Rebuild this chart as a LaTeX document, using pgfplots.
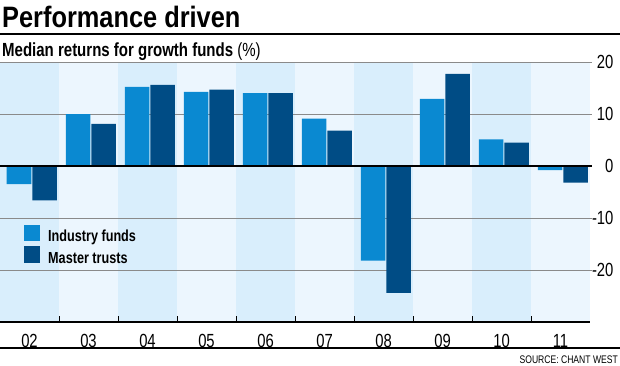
\documentclass[border=0pt]{standalone}
\usepackage{pgfplots}
\pgfplotsset{compat=1.18}
\usepackage{fontspec}
\setmainfont{Liberation Sans}[FakeStretch=0.78]
\newfontfamily\titlefont{Liberation Sans}[FakeStretch=0.86]
\newfontfamily\subfont{Liberation Sans}[FakeStretch=0.79]
\definecolor{ind}{HTML}{0A89D1}
\definecolor{mas}{HTML}{004C85}
\definecolor{bandA}{HTML}{D9EEFC}
\definecolor{bandB}{HTML}{ECF6FE}
\definecolor{gridc}{HTML}{8A8A8A}
\newcommand{\legtext}[1]{{\fontsize{16}{18}\subfont\bfseries #1}}
\begin{document}
\begin{tikzpicture}[x=1pt,y=1pt]
\useasboundingbox (0,-43) rectangle (620,322);
% title and subtitle
\node[anchor=base west,inner sep=0pt,font=\fontsize{29.5}{32}\titlefont\bfseries] at (2,295) {Performance driven};
\draw[line width=2.2pt] (0,288) -- (620,288);
\node[anchor=base west,inner sep=0pt,font=\fontsize{19}{21}\subfont] at (2,266) {\textbf{Median returns for growth funds} (\%)};
\draw[line width=1.1pt] (0,-26) -- (620,-26);
\node[anchor=base east,inner sep=0pt,font=\fontsize{11}{12}\selectfont] at (618,-41.3) {SOURCE: CHANT WEST};
\begin{axis}[at={(0,0)},anchor=south west,scale only axis,
  width=590pt,height=260pt,
  xmin=-0.5,xmax=9.5,ymin=-30,ymax=20,
  axis line style={draw=none},tick style={draw=none},
  xtick={0,...,9},xticklabels={02,03,04,05,06,07,08,09,10,11},
  xticklabel style={anchor=center,yshift=-15pt,font=\fontsize{19}{21}\selectfont},
  ytick={-20,-10,0,10,20},yticklabels={-20,-10,0,10,20},
  yticklabel pos=right,
  yticklabel style={anchor=east,xshift=27pt,font=\fontsize{19}{21}\selectfont},
  clip=false,
  ybar,bar width=24.5pt,
  legend style={at={(0.0407,0.3758)},anchor=north west,draw=none,fill=none,inner sep=0pt,
    nodes={inner sep=0pt,anchor=base west},column sep=8pt,row sep=4pt},
  legend image code/.code={\fill[#1,draw=none] (0pt,0pt) rectangle (16pt,16.5pt);},
]
% background bands
\pgfplotsinvokeforeach{0,2,4,6,8}{\fill[bandA] (axis cs:#1-0.5,-30) rectangle (axis cs:#1+0.5,20);}
\pgfplotsinvokeforeach{1,3,5,7,9}{\fill[bandB] (axis cs:#1-0.5,-30) rectangle (axis cs:#1+0.5,20);}
\pgfplotsinvokeforeach{-20,-10,10,20}{\draw[gridc,line width=0.9pt] (axis cs:-0.5,#1) -- ([xshift=2pt]axis cs:9.5,#1);}
\addplot[fill=ind,draw=none,bar shift=-10.5pt] coordinates {
 (0,-3.5) (1,10.0) (2,15.2) (3,14.25) (4,14.0) (5,9.1) (6,-18.2) (7,12.9) (8,5.1) (9,-0.8)};
\addplot[fill=mas,draw=none,bar shift=15pt] coordinates {
 (0,-6.6) (1,8.1) (2,15.6) (3,14.7) (4,14.0) (5,6.8) (6,-24.4) (7,17.7) (8,4.5) (9,-3.2)};
\legend{\legtext{Industry funds},\legtext{Master trusts}}
\draw[black,line width=1.4pt] (axis cs:-0.5,0) -- ([xshift=2pt]axis cs:9.5,0);
\draw[black,line width=1.2pt] (axis cs:-0.5,-30) -- (axis cs:9.5,-30);
\pgfplotsinvokeforeach{0.5,1.5,2.5,3.5,4.5,5.5,6.5,7.5,8.5}{\draw[black,line width=0.8pt] (axis cs:#1,-30) -- ([yshift=6pt]axis cs:#1,-30);}
\end{axis}
\end{tikzpicture}
\end{document}
